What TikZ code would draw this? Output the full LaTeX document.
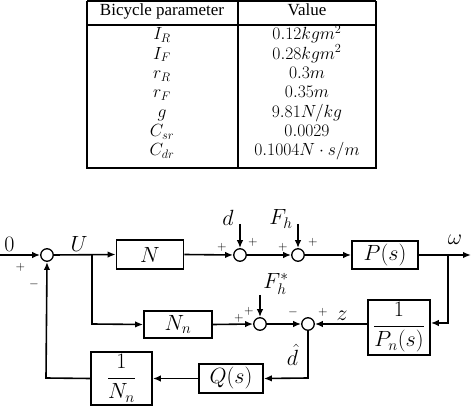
\RequirePackage{fix-cm}
\documentclass[tikz,border=0pt]{standalone}
\usepackage[no-math]{fontspec}
\setmainfont{Liberation Serif}
\usetikzlibrary{arrows.meta,calc}
\begin{document}
\begin{tikzpicture}[x=1pt,y=-1pt,
  blk/.style={draw, line width=1.7pt, inner sep=0pt, font=\fontsize{22}{22}\selectfont},
  sumc/.style={draw, circle, minimum size=12.5pt, inner sep=0pt, line width=1.3pt},
  sig/.style={line width=1.6pt, -{Latex[length=8pt,width=6.5pt]}},
  sgn/.style={font=\fontsize{12.5}{12.5}\selectfont, inner sep=0pt},
  lbl/.style={font=\fontsize{22}{22}\selectfont, inner sep=0pt},
  tab/.style={font=\fontsize{17}{17}\selectfont, anchor=base, inner sep=0pt},
  tabm/.style={font=\fontsize{17.6}{17.6}\selectfont, anchor=base, inner sep=0pt},
  tline/.style={line width=1.2pt}]
\useasboundingbox (0,0) rectangle (474,411);
% ---------- table ----------
\draw[line width=2.2pt] (87,1.2) -- (376,1.2);
\draw[tline] (87,1) -- (87,168) -- (376,168) -- (376,1);
\draw[tline] (238,1) -- (238,168);
\draw[tline] (87,25) -- (376,25);
\node[tab] (h1) at (162,16) {Bicycle parameter};
\node[tab] (h2) at (307,16) {Value};
\node[tabm] (p1) at (162,40) {$I_R$};
\node[tabm] (p2) at (162,59.3) {$I_F$};
\node[tabm] (p3) at (162,78.7) {$r_R$};
\node[tabm] (p4) at (162,98) {$r_F$};
\node[tabm] (p5) at (162,117.3) {$g$};
\node[tabm] (p6) at (162,136.7) {$C_{sr}$};
\node[tabm] (p7) at (162,156) {$C_{dr}$};
\node[tabm] (v1) at (307,40) {$0.12kgm^2$};
\node[tabm] (v2) at (307,59.3) {$0.28kgm^2$};
\node[tabm] (v3) at (307,78.7) {$0.3m$};
\node[tabm] (v4) at (307,98) {$0.35m$};
\node[tabm] (v5) at (307,117.3) {$9.81N/kg$};
\node[tabm] (v6) at (307,136.7) {$0.0029$};
\node[tabm] (v7) at (307,156) {$0.1004N\cdot s/m$};
% ---------- block diagram ----------
\coordinate (in) at (0,255);
\node[sumc] (s1) at (47,255) {};
\node[blk, minimum width=67pt, minimum height=29pt] (N) at (150,254.5) {$N$};
\node[sumc] (s2) at (240,255) {};
\node[sumc] (s3) at (298,255) {};
\node[blk, minimum width=66pt, minimum height=28pt] (P) at (385,255) {$P(s)$};
\coordinate (out) at (471,255);
\coordinate (b1) at (92,255);
\coordinate (b2) at (448,255);
\coordinate (dtop) at (240,224);
\coordinate (ftop) at (298,224);
\node[sumc] (s4) at (260,324) {};
\node[sumc] (s5) at (308,324) {};
\node[blk, minimum width=68pt, minimum height=27pt] (Nn) at (178,324.5) {$N_n$};
\node[blk, minimum width=62pt, minimum height=55pt] (Pn) at (399,327.5) {$\displaystyle\frac{1}{P_n(s)}$};
\node[blk, minimum width=64pt, minimum height=29pt] (Q) at (231,378.5) {$Q(s)$};
\node[blk, minimum width=61pt, minimum height=53pt] (iN) at (121.5,378.5) {$\displaystyle\frac{1}{N_n}$};
\coordinate (fstop) at (260,295);
\coordinate (c1) at (92,324);
\coordinate (c2) at (448,323);
\coordinate (c3) at (308,378);
\coordinate (c4) at (46,378);
% labels
\node[lbl] (l0) at (9.5,244) {$0$};
\node[lbl] (lU) at (79,243.5) {$U$};
\node[lbl] (ld) at (228,218) {$d$};
\node[lbl] (lF) at (281,219) {$F_h$};
\node[lbl] (lw) at (455,240) {$\omega$};
\node[lbl] (lFs) at (276,284) {$F_h^*$};
\node[lbl] (lz) at (342,316) {$z$};
\node[lbl] (ldh) at (292.5,355) {$\hat{d}$};
\node[sgn] (g1) at (20.5,267.5) {$+$};
\node[sgn] (g2) at (34,284) {$-$};
\node[sgn] (g3) at (222,247) {$+$};
\node[sgn] (g4) at (253,242) {$+$};
\node[sgn] (g5) at (283,247) {$+$};
\node[sgn] (g6) at (313,242) {$+$};
\node[sgn] (g7) at (239,318) {$+$};
\node[sgn] (g8) at (249,311) {$+$};
\node[sgn] (g9) at (293,312) {$-$};
\node[sgn] (g10) at (323,312) {$+$};
% connectors
\draw[sig] (in) -- (s1.west);
\draw[sig] (s1.east) -- (N.west);
\draw[sig] (N.east) -- (s2.west);
\draw[sig] (s2.east) -- (s3.west);
\draw[sig] (s3.east) -- (P.west);
\draw[sig] (P.east) -- (out);
\draw[sig] (dtop) -- (s2.north);
\draw[sig] (ftop) -- (s3.north);
\draw[sig] (b1) -- (c1) -- (Nn.west);
\draw[sig] (Nn.east) -- (s4.west);
\draw[sig] (fstop) -- (s4.north);
\draw[sig] (s4.east) -- (s5.west);
\draw[sig] (b2) -- (c2) -- (Pn.east |- c2);
\draw[sig] (Pn.west |- s5) -- (s5.east);
\draw[sig] (s5.south) -- (c3) -- (Q.east);
\draw[sig] (Q.west) -- (iN.east);
\draw[sig] (iN.west) -- (c4) -- (s1.south);
\end{tikzpicture}
\end{document}
